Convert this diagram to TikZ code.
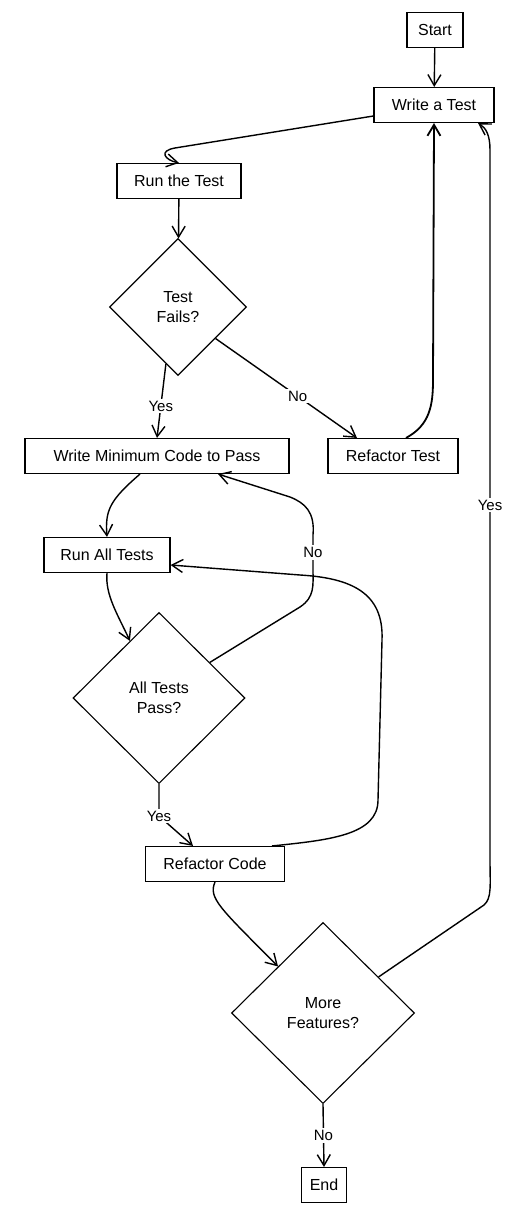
\documentclass[tikz,border=0pt]{standalone}
\usepackage{fontspec}
\setmainfont{Liberation Sans}
\usetikzlibrary{shapes.geometric,arrows.meta}

\begin{document}
\begin{tikzpicture}[x=1pt,y=-1pt,>={Straight Barb[length=11pt,width=13pt]},
  box/.style={draw,rectangle,line width=1.1pt,minimum height=35pt,inner sep=0pt,font=\fontsize{16}{20}\selectfont},
  decision/.style={draw,diamond,line width=1.1pt,inner sep=0pt,align=center,font=\fontsize{16}{20}\selectfont},
  lbl/.style={fill=white,inner sep=2pt,font=\fontsize{15}{18}\selectfont},
  flow/.style={->,line width=1.4pt,line join=round}]
  \useasboundingbox (0,0) rectangle (527,1222);
  \node[box,minimum width=56pt] (start) at (435,30) {Start};
  \node[box,minimum width=120pt] (wat) at (434,105) {Write a Test};
  \node[box,minimum width=124pt] (rtt) at (179,181) {Run the Test};
  \node[decision,minimum width=137pt,minimum height=137pt] (tf) at (178,307) {Test\\Fails?};
  \node[box,minimum width=264pt] (wmc) at (157,456) {Write Minimum Code to Pass};
  \node[box,minimum width=130pt] (rft) at (393,456) {Refactor Test};
  \node[box,minimum width=126pt] (rat) at (107,555) {Run All Tests};
  \node[decision,minimum width=172pt,minimum height=171pt] (atp) at (159,698) {All Tests\\Pass?};
  \node[box,minimum width=139pt] (rfc) at (215,864) {Refactor Code};
  \node[decision,minimum width=183pt,minimum height=181pt] (mf) at (323,1013) {More\\Features?};
  \node[box,minimum width=45pt] (end) at (324,1185) {End};
  % top part
  \draw[flow] (start) -- (wat);
  \draw[flow] ([yshift=-11pt]wat.west) -- (175,148) .. controls (158,151) and (165,160) .. (rtt.north);
  \draw[flow] (rtt) -- (tf);
  \draw[flow] (tf.258) -- node[lbl,pos=0.57] (yes1) {Yes} (wmc.north);
  \draw[flow] (tf.-40) -- node[lbl,pos=0.58] (no1) {No} ([xshift=-36pt]rft.north);
  \draw[flow,line width=1.8pt] ([xshift=13pt]rft.north) .. controls (430,425) and (433,405) .. (433,380) -- (wat.south);
  % second loop
  \draw[flow] ([xshift=-17pt]wmc.south) .. controls (110,500) and (105,510) .. (rat.north);
  \draw[flow] (rat.south) .. controls (105,595) and (118,615) .. (atp.117);
  \draw[flow] (atp.35) -- (300,607) .. controls (315,597) and (313,585) .. (313,570)
    -- node[lbl] (no2) {No} (313,535) .. controls (315,512) and (305,503) .. (290,497) -- ([xshift=61pt]wmc.south);
  \draw[flow] (atp.south) -- ++(0,32) node[lbl] (yes2) {Yes} -- ([xshift=-22pt]rfc.north);
  \draw[flow] ([xshift=57pt]rfc.north) .. controls (330,840) and (378,835) .. (378,800) -- (382,640)
    .. controls (384,592) and (350,578) .. (300,575) -- ([yshift=-10pt]rat.east);
  % bottom part
  \draw[flow] (rfc.south) .. controls (208,898) and (220,908) .. (mf.134);
  \draw[flow] (mf.33) -- (484,905) .. controls (492,898) and (490,885) .. (490,860)
    -- node[lbl,pos=0.5] (yes3) {Yes} (490,150) .. controls (490,135) and (486,128) .. ([xshift=44pt]wat.south);
  \draw[flow] (mf.south) -- node[lbl] (no3) {No} (end.north);
\end{tikzpicture}
\end{document}
